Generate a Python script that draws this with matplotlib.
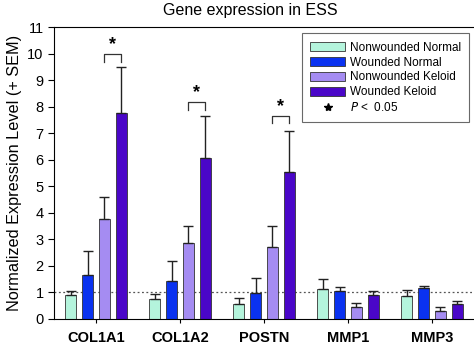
import numpy as np
import matplotlib.pyplot as plt
from matplotlib.patches import Patch
from matplotlib.lines import Line2D

plt.rcParams["font.family"] = ["Liberation Sans", "DejaVu Sans"]

genes = ["COL1A1", "COL1A2", "POSTN", "MMP1", "MMP3"]
groups = ["Nonwounded Normal", "Wounded Normal", "Nonwounded Keloid", "Wounded Keloid"]
colors = ["#b4f4dc", "#0a32f0", "#a58cf2", "#4a06c8"]

# mean values per group (rows) and gene (columns)
means = [
    [0.90, 0.75, 0.57, 1.13, 0.88],
    [1.67, 1.43, 0.98, 1.05, 1.18],
    [3.77, 2.86, 2.71, 0.45, 0.31],
    [7.75, 6.07, 5.52, 0.90, 0.58],
]
# top of error bar (mean + SEM)
err_top = [
    [1.05, 0.93, 0.78, 1.52, 1.10],
    [2.56, 2.18, 1.54, 1.20, 1.24],
    [4.60, 3.52, 3.50, 0.60, 0.45],
    [9.48, 7.65, 7.10, 1.07, 0.68],
]
# significance brackets: gene index, bracket height
sig_genes = [0, 1, 2]
sig_heights = [9.98, 8.17, 7.65]

fig = plt.figure(figsize=(4.74, 3.47), dpi=100)
ax = fig.add_axes([0.114, 0.081, 0.886, 0.841])

x = np.arange(len(genes))
width = 0.13
offsets = [-0.3, -0.1, 0.1, 0.3]

for i in range(4):
    m = np.array(means[i])
    e = np.array(err_top[i]) - m
    ax.bar(x + offsets[i], m, width, color=colors[i], edgecolor="#333333", linewidth=0.6, zorder=2)
    ax.errorbar(x + offsets[i], m, yerr=[np.zeros_like(e), e], fmt="none", ecolor="#222222",
                elinewidth=1.0, capsize=3.5, capthick=1.0, zorder=3)

ax.axhline(1, color="#555555", linestyle=(0, (1.5, 2)), linewidth=0.9, zorder=1)

for g, h in zip(sig_genes, sig_heights):
    x1 = g + offsets[2]
    x2 = g + offsets[3]
    ax.plot([x1, x1, x2, x2], [h - 0.28, h, h, h - 0.28], color="#333333", linewidth=0.9)
    ax.text((x1 + x2) / 2, h + 0.05, "*", ha="center", va="bottom", fontsize=13, fontweight="bold")

ax.set_xlim(-0.5, 4.5)
ax.set_ylim(0, 11)
ax.set_yticks(range(0, 12))
ax.set_xticks(x)
ax.set_xticklabels(genes, fontweight="bold", fontsize=10.5)
ax.tick_params(axis="y", labelsize=10.5, length=4, direction="out")
ax.tick_params(axis="x", length=3, direction="out", pad=6)
ax.spines["right"].set_visible(False)
ax.set_ylabel("Normalized Expression Level (+ SEM)", fontsize=11.7, labelpad=4)
ax.set_title("Gene expression in ESS", fontsize=11.5, pad=9, x=0.467)

handles = [Patch(facecolor=c, edgecolor="#333333", linewidth=0.6) for c in colors]
handles.append(Line2D([], [], linestyle="none", marker="*", color="black", markersize=6))
labels = groups + [r"$P$ <  0.05"]
leg = ax.legend(handles, labels, loc="upper right", bbox_to_anchor=(0.988, 0.978), fontsize=8.5,
                fancybox=False, edgecolor="#444444", handlelength=3.0, handleheight=0.8,
                labelspacing=0.24, borderpad=0.7, handletextpad=0.35, borderaxespad=0)
leg.get_frame().set_linewidth(0.8)

fig.savefig("out.png", dpi=100)
